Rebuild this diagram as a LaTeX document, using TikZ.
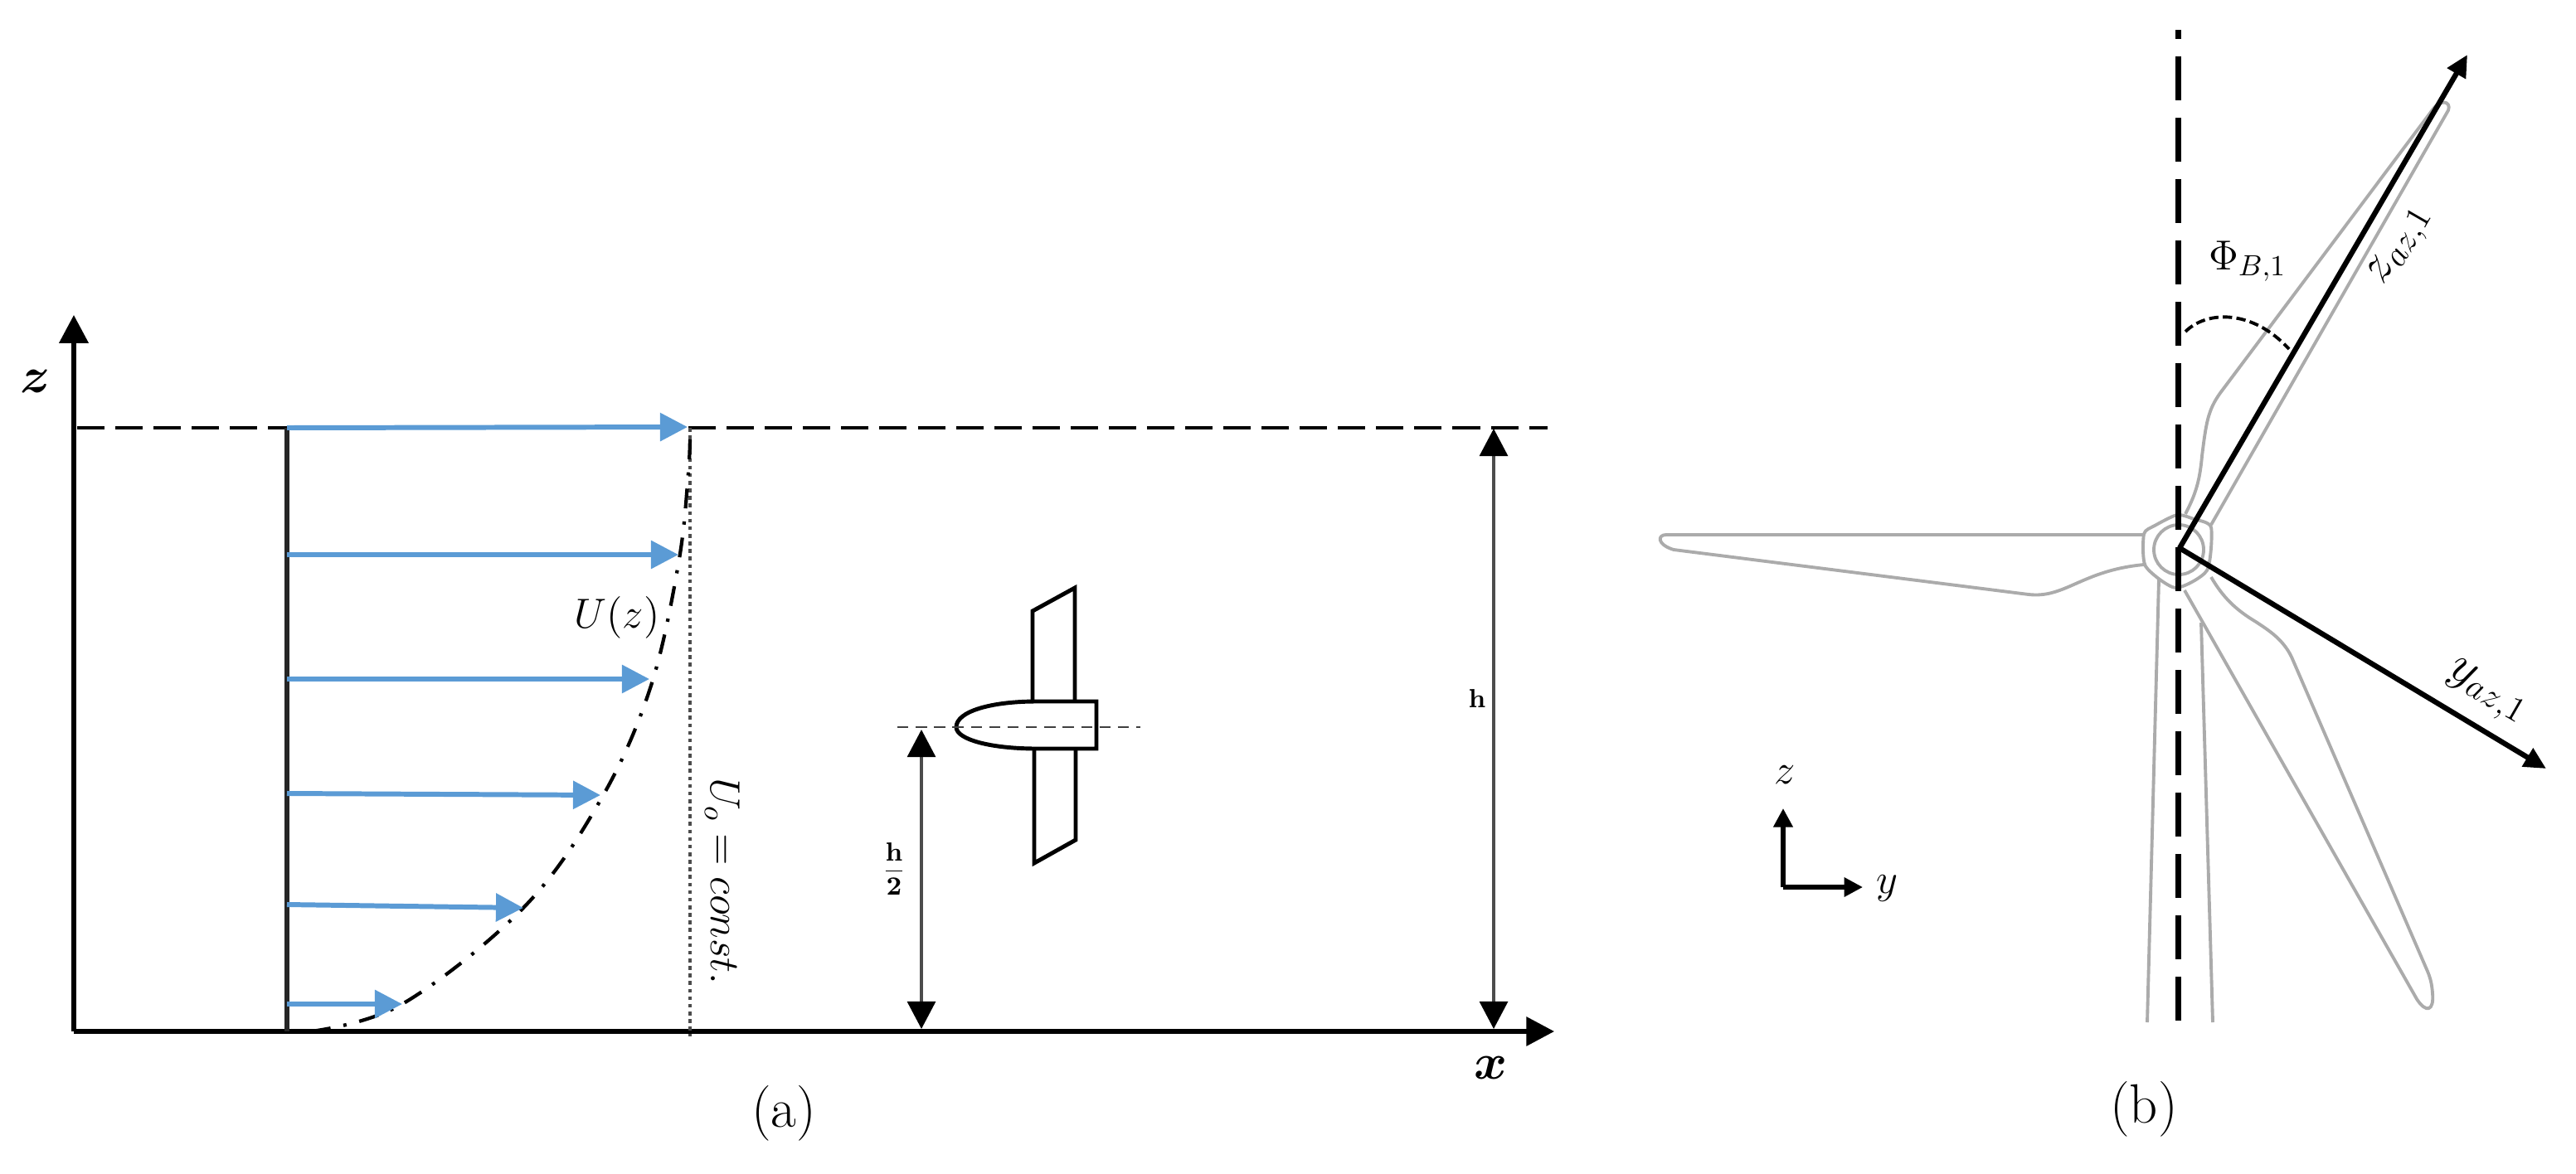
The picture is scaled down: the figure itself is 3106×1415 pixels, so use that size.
\documentclass[tikz,border=0pt]{standalone}
\usepackage{amssymb,amsmath}
\usepackage{tikz}
\usetikzlibrary{arrows.meta}
\definecolor{windblue}{HTML}{5B9BD5}
\definecolor{bladegray}{HTML}{ABABAB}
\begin{document}
\begin{tikzpicture}[x=0.01cm, y=-0.01cm,
  lab/.style={inner sep=0pt, font=\Large},
  biglab/.style={inner sep=0pt, font=\LARGE},
  subcap/.style={inner sep=0pt, font=\fontsize{19}{21}\selectfont},
  axis/.style={line width=1.5pt, -{Stealth[inset=0pt,length=9.6pt,width=9.8pt]}},
  dim/.style={line width=1.1pt, draw=black!70, {Stealth[inset=0pt,length=9.4pt,width=9.6pt,black]}-{Stealth[inset=0pt,length=9.4pt,width=9.6pt,black]}},
  wind/.style={line width=1.7pt, draw=windblue, -{Stealth[inset=0pt,length=9.4pt,width=9.4pt]}},
  az/.style={line width=1.8pt, -{Stealth[inset=0pt,length=7.5pt,width=7pt]}},
  triad/.style={line width=1.5pt, -{Stealth[inset=0pt,length=6.4pt,width=6.4pt]}},
  blade/.style={line width=1.1pt, draw=bladegray, line join=round},
  rotor/.style={line width=1.4pt, line join=miter}]
  \useasboundingbox (0,0) rectangle (3106,1415);

  \coordinate (o) at (89,1244);
  \coordinate (ztip) at (89,380);
  \coordinate (xtip) at (1874,1244);
  \coordinate (topl) at (93,516);
  \coordinate (topr) at (1866,516);
  \coordinate (w0) at (346,516);
  \coordinate (w00) at (346,1244);
  \coordinate (u0) at (832,516);
  \coordinate (u00) at (832,1250);
  \draw[line width=1.1pt, dash pattern=on 9.4pt off 3.7pt] (topl) -- (topr);
  \draw[axis] (o) -- (ztip);
  \draw[axis] (o) -- (xtip);
  \draw[line width=1.6pt, draw=black!85] (w0) -- (w00);
  \draw[line width=1.3pt, draw=black!70, dash pattern=on 1.3pt off 1.3pt] (u0) -- (u00);
  \draw[line width=1.2pt, dash pattern=on 6.8pt off 4.5pt on 1.1pt off 4.5pt] plot[smooth, tension=0.6] coordinates {(375,1244) (485,1211) (631,1095) (724,965) (784,830) (818,680) (830,570) (832,518)};

  \coordinate (a1) at (346,516);
  \coordinate (b1) at (829,515);
  \coordinate (a2) at (346,669);
  \coordinate (b2) at (818,669);
  \coordinate (a3) at (346,819);
  \coordinate (b3) at (783,819);
  \coordinate (a4) at (346,957);
  \coordinate (b4) at (724,959);
  \coordinate (a5) at (346,1091);
  \coordinate (b5) at (631,1095);
  \coordinate (a6) at (346,1211);
  \coordinate (b6) at (485,1211);
  \draw[wind] (a1) -- (b1);
  \draw[wind] (a2) -- (b2);
  \draw[wind] (a3) -- (b3);
  \draw[wind] (a4) -- (b4);
  \draw[wind] (a5) -- (b5);
  \draw[wind] (a6) -- (b6);

  \node[lab] (uz) at (744,745) {$U(z)$};
  \node[lab, rotate=-90] (uc) at (871,1063) {$U_o=const.$};
  \node[biglab] (zlab) at (43,460) {$\boldsymbol{z}$};
  \node[biglab] (xlab) at (1797,1288) {$\boldsymbol{x}$};
  \node[subcap] (capa) at (945,1343) {(a)};

  \coordinate (hl) at (1082,877);
  \coordinate (hr) at (1375,877);
  \draw[rotor] (1245,846) -- (1245,737) -- (1296,709) -- (1296,846);
  \draw[rotor] (1247,903) -- (1247,1041) -- (1297,1013) -- (1297,903);
  \draw[rotor] (1322,846) -- (1250,846) .. controls (1195,846) and (1153,858) .. (1153,877) .. controls (1153,892) and (1195,903) .. (1250,903) -- (1322,903) -- cycle;
  \draw[line width=0.7pt, draw=black!75, dash pattern=on 3.8pt off 2.5pt] (hl) -- (hr);

  \coordinate (h2t) at (1111,880);
  \coordinate (h2b) at (1111,1241);
  \coordinate (ht) at (1801,517);
  \coordinate (hb) at (1801,1241);
  \draw[dim] (h2t) -- (h2b);
  \draw[dim] (ht) -- (hb);
  \node[inner sep=0pt, font=\small] (h2lab) at (1078,1048) {$\dfrac{\mathbf{h}}{\mathbf{2}}$};
  \node[inner sep=0pt, font=\small] (hlab) at (1781,842) {$\mathbf{h}$};

  \draw[blade] plot[smooth cycle, tension=0.4] coordinates {(2625,621) (2645,626) (2666,636) (2661,688) (2623,709) (2587,683) (2585,644) (2598,634)};
  \draw[blade] (2627,663) circle (30);
  \draw[blade] (2585,645) -- (2009,645) .. controls (1998,645) and (1998,657) .. (2018,663) -- (2446,717) .. controls (2490,722) and (2510,688) .. (2585,681);
  \draw[blade] (2666,633) -- (2952,133) .. controls (2956,122) and (2942,118) .. (2931,135) -- (2677,474) .. controls (2662,495) and (2660,510) .. (2655,550) .. controls (2652,585) and (2645,600) .. (2635,620);
  \draw[blade] (2634,712) -- (2914,1205) .. controls (2925,1222) and (2935,1220) .. (2933,1198) .. controls (2932,1185) and (2930,1178) .. (2925,1167) -- (2765,797) .. controls (2755,772) and (2735,760) .. (2720,750) .. controls (2695,735) and (2680,720) .. (2666,696);
  \draw[blade] (2603,699) -- (2589,1233);
  \draw[blade] (2654,751) -- (2668,1233);

  \coordinate (dtop) at (2626,36);
  \coordinate (dbot) at (2626,1231);
  \coordinate (hub) at (2628,661);
  \coordinate (zaz) at (2975,66);
  \coordinate (yaz) at (3070,927);
  \coordinate (phia) at (2635,400);
  \coordinate (phib) at (2760,421);
  \draw[line width=2pt, dash pattern=on 15.1pt off 5.95pt, dash phase=11.95pt] (dtop) -- (dbot);
  \draw[az] (hub) -- (zaz);
  \draw[az] (hub) -- (yaz);
  \draw[line width=1.1pt, dash pattern=on 3.2pt off 1.5pt] (phia) .. controls (2660,375) and (2715,372) .. (phib);
  \node[lab] (philab) at (2710,315) {$\Phi_{B,1}$};
  \node[biglab, rotate=60] (zazlab) at (2896,297) {$z_{az,1}$};
  \node[biglab, rotate=-30] (yazlab) at (2998,836) {$y_{az,1}$};

  \coordinate (c) at (2150,1070);
  \coordinate (cz) at (2150,975);
  \coordinate (cy) at (2246,1070);
  \draw[triad] (c) -- (cz);
  \draw[triad] (c) -- (cy);
  \node[lab] (zsm) at (2152,935) {$z$};
  \node[lab] (ysm) at (2275,1072) {$y$};
  \node[subcap] (capb) at (2585,1338) {(b)};
\end{tikzpicture}
\end{document}
